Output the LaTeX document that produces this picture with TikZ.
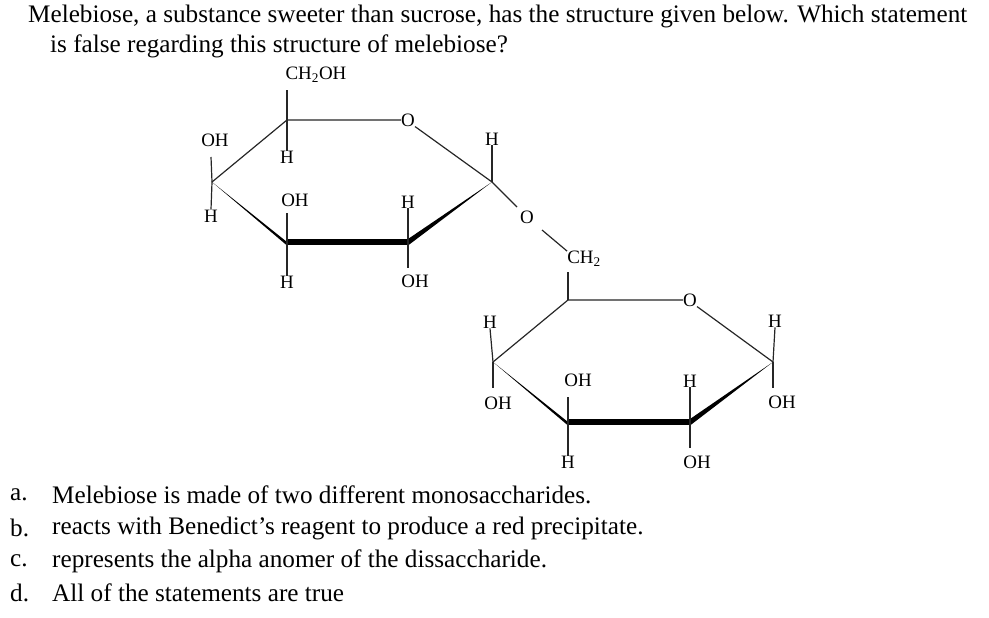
\documentclass[tikz,border=0pt]{standalone}
\usepackage{fontspec}
\setmainfont{Liberation Serif}
\begin{document}
\begin{tikzpicture}[x=1bp,y=-1bp,
  lbl/.style={font=\fontsize{19}{19}\selectfont,inner sep=0pt},
  txt/.style={font=\fontsize{25.3}{26}\selectfont,inner sep=0pt,anchor=west},
  bd/.style={line width=1.2pt,draw=black!85}]
\useasboundingbox (0,0) rectangle (989,618);
% question
\node[txt] (q1) at (28,16) {Melebiose, a substance sweeter than sucrose, has the structure given below. Which statement};
\node[txt] (q2) at (50,46) {is false regarding this structure of melebiose?};
% upper ring
\coordinate (a5) at (287,120); \node[lbl] (aO) at (408,120) {O};
\coordinate (a1) at (492,182); \coordinate (a2) at (408,242);
\coordinate (a3) at (287,242); \coordinate (a4) at (212,182);
\draw[bd] (a4) -- (a5) -- (aO.west); \draw[bd] (aO.south east) -- (a1);
\fill (a4) -- (a3) -- ([yshift=-3.5]a3) -- cycle;
\fill ([yshift=-3.5]a3) rectangle ([yshift=3]a2);
\fill ([yshift=-3.5]a2) -- ([yshift=3]a2) -- (a1) -- cycle;
\node[lbl] (ach) at (316,75) {CH\textsubscript{2}OH};
\draw[bd] (a5) -- (287,90);
\node[lbl] (a5h) at (287,157) {H}; \draw[bd] (a5) -- (a5h.north);
\node[lbl] (a4oh) at (215,140) {OH}; \draw[bd] (a4) -- (211,157);
\node[lbl] (a4h) at (211,216) {H}; \draw[bd] (a4) -- (a4h.north);
\node[lbl] (a3oh) at (295,200) {OH}; \draw[bd] (a3) -- (287,213);
\node[lbl] (a3h) at (287,282) {H}; \draw[bd] (a3) -- (a3h.north);
\node[lbl] (a2h) at (408,202) {H}; \draw[bd] (a2) -- (a2h.south);
\node[lbl] (a2oh) at (415,281) {OH}; \draw[bd] (a2) -- (408,268);
\node[lbl] (a1h) at (492,139) {H}; \draw[bd] (a1) -- (a1h.south);
\node[lbl] (gO) at (527,217) {O};
\draw[bd] (a1) -- (517,207);
% lower ring
\node[lbl] (ch2) at (584,259) {CH\textsubscript{2}};
\draw[bd] (542,230) -- (ch2.north west);
\coordinate (b5) at (568,300); \node[lbl] (bO) at (690,300) {O};
\coordinate (b1) at (773,362); \coordinate (b2) at (690,422);
\coordinate (b3) at (568,422); \coordinate (b4) at (493,362);
\draw[bd] (568,272) -- (b5);
\draw[bd] (b4) -- (b5) -- (bO.west); \draw[bd] (bO.south east) -- (b1);
\fill (b4) -- (b3) -- ([yshift=-3.5]b3) -- cycle;
\fill ([yshift=-3.5]b3) rectangle ([yshift=3]b2);
\fill ([yshift=-3.5]b2) -- ([yshift=3]b2) -- (b1) -- cycle;
\node[lbl] (b4h) at (490,322) {H}; \draw[bd] (b4) -- (b4h.south);
\node[lbl] (b4oh) at (498,403) {OH}; \draw[bd] (b4) -- (493,388);
\node[lbl] (b3oh) at (578,380) {OH}; \draw[bd] (b3) -- (568,397);
\node[lbl] (b3h) at (568,462) {H}; \draw[bd] (b3) -- (b3h.north);
\node[lbl] (b2h) at (690,381) {H}; \draw[bd] (b2) -- (b2h.south);
\node[lbl] (b2oh) at (697,462) {OH}; \draw[bd] (b2) -- (690,448);
\node[lbl] (b1h) at (775,321) {H}; \draw[bd] (b1) -- (b1h.south);
\node[lbl] (b1oh) at (782,402) {OH}; \draw[bd] (b1) -- (773,388);
% answers
\node[txt] (ala) at (10,495) {a.}; \node[txt] (aa) at (52,495) {Melebiose is made of two different monosaccharides.};
\node[txt] (alb) at (10,528) {b.}; \node[txt] (ab) at (52,528) {reacts with Benedict’s reagent to produce a red precipitate.};
\node[txt] (alc) at (10,561) {c.}; \node[txt] (ac) at (52,561) {represents the alpha anomer of the dissaccharide.};
\node[txt] (ald) at (10,593) {d.}; \node[txt] (ad) at (52,593) {All of the statements are true};
\end{tikzpicture}
\end{document}
